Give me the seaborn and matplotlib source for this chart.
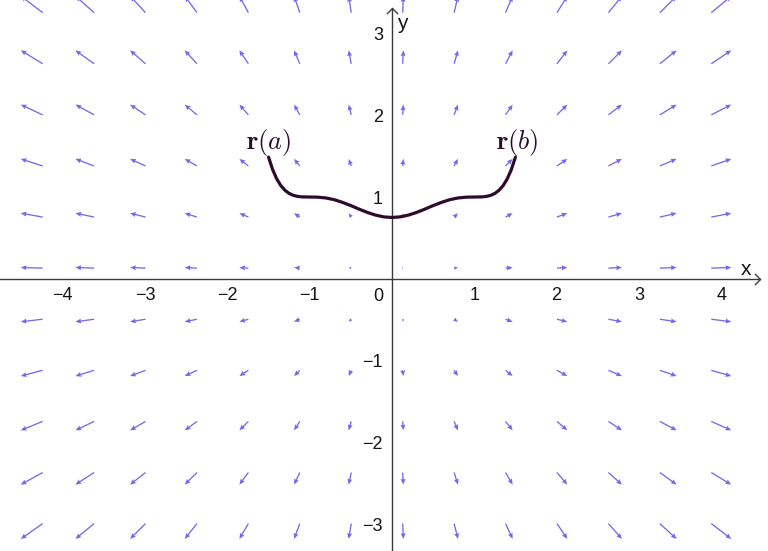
import numpy as np
import pandas as pd
import matplotlib
matplotlib.use("Agg")
import matplotlib.pyplot as plt
import matplotlib.transforms as mtransforms
import seaborn as sns

# ---- data ----
# vector field grid (tail positions) and components F(x, y)
field_x = [-4.245, -3.62, -2.995, -2.37, -1.745, -1.12, -0.495, 0.13,
           0.755, 1.38, 2.005, 2.63, 3.255, 3.88]
field_y = [-2.995, -2.37, -1.745, -1.12, -0.495, 0.13, 0.755, 1.38,
           2.005, 2.63, 3.255]
field_u = [-4.245, -3.62, -2.995, -2.37, -1.745, -1.12, -0.495, 0.13,
           0.755, 1.38, 2.005, 2.63, 3.255, 3.88]
field_v = [-2.995, -2.37, -1.745, -1.12, -0.495, 0.13, 0.755, 1.38,
           2.005, 2.63, 3.255]

# curve r(t), from r(a) to r(b)
curve_x = [-1.5, -1.45, -1.4, -1.35, -1.3, -1.25, -1.2, -1.15, -1.1, -1.0,
           -0.9, -0.8, -0.7, -0.6, -0.5, -0.4, -0.3, -0.2, -0.1, 0.0,
           0.1, 0.2, 0.3, 0.4, 0.5, 0.6, 0.7, 0.8, 0.9, 1.0,
           1.1, 1.15, 1.2, 1.25, 1.3, 1.35, 1.4, 1.45, 1.5]
curve_y = [1.488, 1.335, 1.221, 1.139, 1.082, 1.044, 1.021, 1.008, 1.002, 1.0,
           0.998, 0.988, 0.967, 0.934, 0.895, 0.852, 0.812, 0.779, 0.757, 0.75,
           0.757, 0.779, 0.812, 0.852, 0.895, 0.934, 0.967, 0.988, 0.998, 1.0,
           1.002, 1.008, 1.021, 1.044, 1.082, 1.139, 1.221, 1.335, 1.488]

x_ticks = [-4, -3, -2, -1, 1, 2, 3, 4]
y_ticks = [-3, -2, -1, 1, 2, 3]
end_labels = [r"$\mathbf{r}(a)$", r"$\mathbf{r}(b)$"]

# ---- style ----
sns.set_theme(style="white")
plt.rcParams["font.family"] = ["Liberation Sans", "DejaVu Sans"]
plt.rcParams["mathtext.fontset"] = "cm"
plt.rcParams["axes.unicode_minus"] = True

AXC = "#3a3a3a"
ARROWC = "#7866ec"
CURVEC = "#2e0a2c"
TXTC = "#151515"

fig = plt.figure(figsize=(7.68, 5.51), dpi=100)
ax = fig.add_axes([0, 0, 1, 1])
ax.set_xlim(-4.763, 4.569)
ax.set_ylim(-3.33, 3.41)

# vector field
X, Y = np.meshgrid(field_x, field_y)
U, V = np.meshgrid(field_u, field_v)
ax.quiver(X, Y, U, V, angles="xy", scale_units="xy", scale=16.0,
          color=ARROWC, units="dots", width=1.3, headwidth=3.8,
          headlength=4.4, headaxislength=4.0, zorder=2)

# curve
df = pd.DataFrame({"x": curve_x, "y": curve_y})
sns.lineplot(data=df, x="x", y="y", sort=False, estimator=None, ax=ax,
             color=CURVEC, linewidth=2.3, zorder=4)

# end labels
ax.text(curve_x[0], curve_y[0], end_labels[0], fontsize=19, color=CURVEC,
        ha="center", va="bottom", zorder=5,
        transform=ax.transData + mtransforms.ScaledTranslation(0.0, -0.01, fig.dpi_scale_trans))
ax.text(curve_x[-1], curve_y[-1], end_labels[1], fontsize=19, color=CURVEC,
        ha="center", va="bottom", zorder=5,
        transform=ax.transData + mtransforms.ScaledTranslation(0.02, -0.01, fig.dpi_scale_trans))

# axes through origin
for side in ["top", "right"]:
    ax.spines[side].set_visible(False)
ax.spines["left"].set_position(("data", 0))
ax.spines["bottom"].set_position(("data", 0))
x_end, y_end = 4.47, 3.31
ax.spines["bottom"].set_bounds(-4.763, x_end)
ax.spines["left"].set_bounds(-3.33, y_end)
for side in ["left", "bottom"]:
    ax.spines[side].set_color(AXC)
    ax.spines[side].set_linewidth(1.0)
    ax.spines[side].set_zorder(3)

chev_r = [(-1, 1), (0, 0), (-1, -1)]
chev_u = [(-1, -1), (0, 0), (1, -1)]
ax.plot([x_end], [0], marker=chev_r, markersize=8, markerfacecolor="none",
        markeredgecolor=AXC, markeredgewidth=1.0, clip_on=False, zorder=3)
ax.plot([0], [y_end], marker=chev_u, markersize=8, markerfacecolor="none",
        markeredgecolor=AXC, markeredgewidth=1.0, clip_on=False, zorder=3)

ax.set_xticks(x_ticks)
ax.set_yticks(y_ticks)
ax.tick_params(axis="both", direction="out", length=2.5, width=1.0,
               color=AXC, labelsize=13, labelcolor=TXTC)
ax.tick_params(axis="x", pad=3.5)
ax.tick_params(axis="y", pad=4)
ax.set_xlabel("")
ax.set_ylabel("")

ax.annotate("0", xy=(0, 0), xytext=(-6.5, -6.5), textcoords="offset points",
            ha="right", va="top", fontsize=13, color=TXTC)
ax.annotate("x", xy=(x_end, 0), xytext=(-10, -0.5), textcoords="offset points",
            ha="center", va="bottom", fontsize=15, color=TXTC)
ax.annotate("y", xy=(0, y_end), xytext=(7.5, -4), textcoords="offset points",
            ha="center", va="top", fontsize=15, color=TXTC)

fig.savefig("out.png", dpi=100)
